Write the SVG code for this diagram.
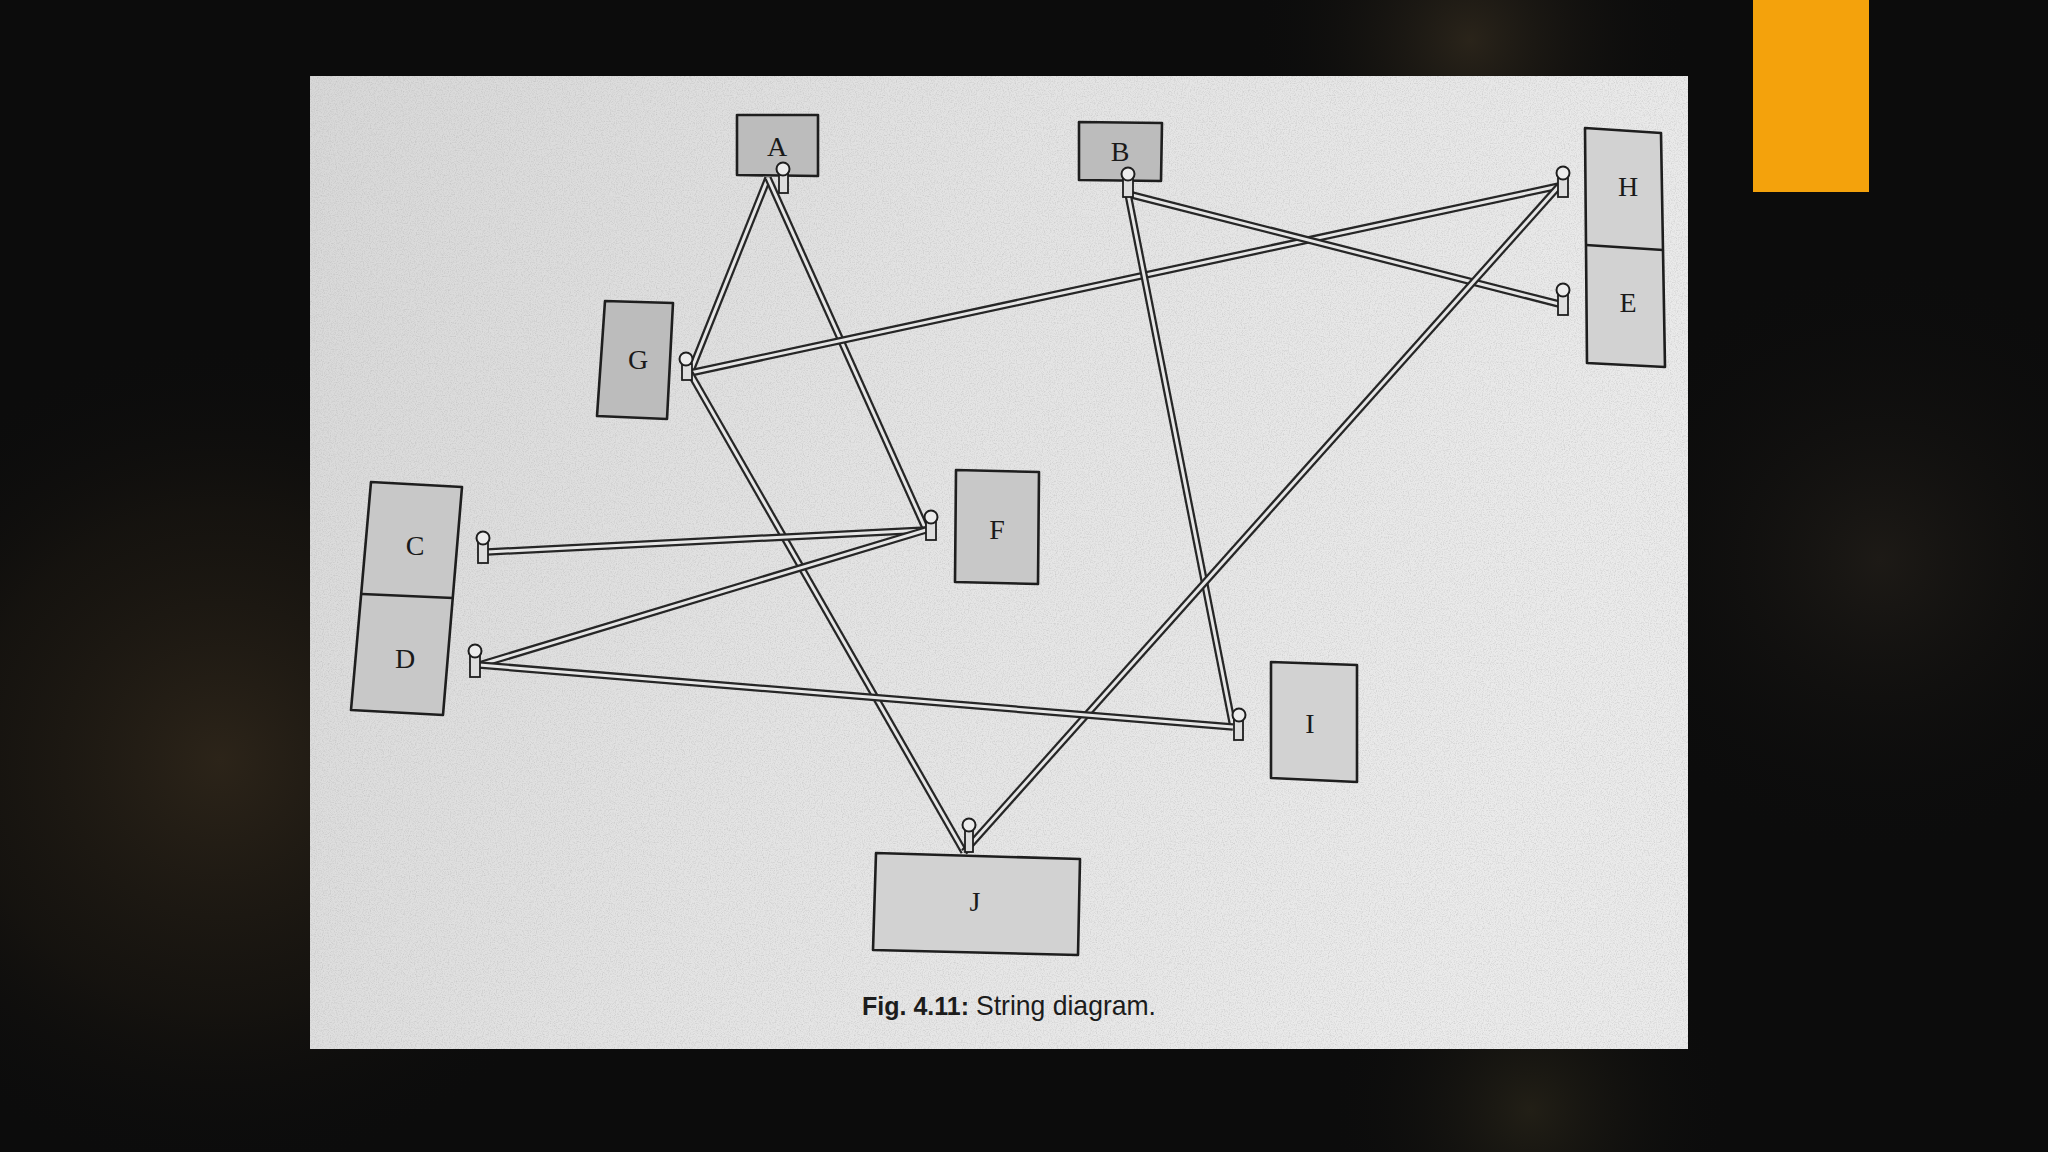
<svg xmlns="http://www.w3.org/2000/svg" width="2048" height="1152" viewBox="0 0 2048 1152">
  <defs>
    <radialGradient id="glowL" cx="220" cy="760" r="420" gradientUnits="userSpaceOnUse">
      <stop offset="0" stop-color="#2c2419"/>
      <stop offset="0.6" stop-color="#1b1711" stop-opacity="0.6"/>
      <stop offset="1" stop-color="#0c0c0c" stop-opacity="0"/>
    </radialGradient>
    <radialGradient id="glowT" cx="1470" cy="40" r="220" gradientUnits="userSpaceOnUse">
      <stop offset="0" stop-color="#2a241a"/>
      <stop offset="1" stop-color="#0c0c0c" stop-opacity="0"/>
    </radialGradient>
    <radialGradient id="glowR" cx="1880" cy="560" r="300" gradientUnits="userSpaceOnUse">
      <stop offset="0" stop-color="#1d1a16"/>
      <stop offset="1" stop-color="#0c0c0c" stop-opacity="0"/>
    </radialGradient>
    <radialGradient id="glowB" cx="1530" cy="1110" r="200" gradientUnits="userSpaceOnUse">
      <stop offset="0" stop-color="#221f16"/>
      <stop offset="1" stop-color="#0c0c0c" stop-opacity="0"/>
    </radialGradient>
    <linearGradient id="paperG" x1="0" y1="0" x2="1" y2="0.3">
      <stop offset="0" stop-color="#d8d8d8"/>
      <stop offset="0.5" stop-color="#e4e4e4"/>
      <stop offset="1" stop-color="#ebebeb"/>
    </linearGradient>
    <filter id="grain" x="0" y="0" width="100%" height="100%">
      <feTurbulence type="fractalNoise" baseFrequency="0.85" numOctaves="2" seed="4" result="n"/>
      <feColorMatrix in="n" type="matrix" values="0 0 0 0 0.35  0 0 0 0 0.35  0 0 0 0 0.35  0 0 0 -2.2 1.25" result="g"/>
      <feComposite in="g" in2="SourceGraphic" operator="in"/>
    </filter>
  </defs>
  <style>
    .box { stroke: #1e1e1e; stroke-width: 2.6; stroke-linejoin: round; }
    .dark { fill: #bcbcbc; }
    .mid { fill: #c8c8c8; }
    .light { fill: #d2d2d2; }
    .div { stroke: #1e1e1e; stroke-width: 2.4; fill: none; }
    .lbl { font-family: "Liberation Serif", "Times New Roman", serif; font-size: 28px; fill: #1a1a1a; text-anchor: middle; }
    .ro { stroke: #262626; stroke-width: 7.5; fill: none; stroke-linecap: butt; }
    .ri { stroke: #e6e6e6; stroke-width: 3; fill: none; stroke-linecap: butt; }
    .pinc { fill: #ececec; stroke: #1e1e1e; stroke-width: 2; }
    .pins { fill: #dedede; stroke: #1e1e1e; stroke-width: 1.8; }
    .cap { font-family: "Liberation Sans", Arial, sans-serif; fill: #1c1c1c; }
  </style>

  <!-- background -->
  <rect x="0" y="0" width="2048" height="1152" fill="#0c0c0c"/>
  <rect x="0" y="0" width="2048" height="1152" fill="url(#glowL)"/>
  <rect x="0" y="0" width="2048" height="1152" fill="url(#glowT)"/>
  <rect x="0" y="0" width="2048" height="1152" fill="url(#glowR)"/>
  <rect x="0" y="0" width="2048" height="1152" fill="url(#glowB)"/>

  <!-- orange accent -->
  <rect x="1753" y="0" width="116" height="192" fill="#f4a20c"/>

  <!-- paper -->
  <rect x="310" y="76" width="1378" height="973" fill="url(#paperG)"/>
  <rect x="310" y="76" width="1378" height="973" fill="#000" filter="url(#grain)" opacity="0.35"/>

  <!-- nodes -->
  <g id="node-A">
    <polygon class="box dark" points="737,115 818,115 818,176 737,175"/>
    <text class="lbl" x="777" y="156">A</text>
  </g>
  <g id="node-B">
    <polygon class="box dark" points="1079,122 1162,123 1161,181 1079,180"/>
    <text class="lbl" x="1120" y="161">B</text>
  </g>
  <g id="node-G">
    <polygon class="box dark" points="605,301 673,303 667,419 597,416"/>
    <text class="lbl" x="638" y="369">G</text>
  </g>
  <g id="node-F">
    <polygon class="box mid" points="956,470 1039,472 1038,584 955,582"/>
    <text class="lbl" x="997" y="539">F</text>
  </g>
  <g id="node-CD">
    <polygon class="box mid" points="371,482 462,487 443,715 351,710"/>
    <line class="div" x1="362" y1="594" x2="453" y2="598"/>
    <text class="lbl" x="415" y="555">C</text>
    <text class="lbl" x="405" y="668">D</text>
  </g>
  <g id="node-HE">
    <polygon class="box light" points="1585,128 1661,133 1665,367 1587,363"/>
    <line class="div" x1="1586" y1="245" x2="1663" y2="250"/>
    <text class="lbl" x="1628" y="196">H</text>
    <text class="lbl" x="1628" y="312">E</text>
  </g>
  <g id="node-I">
    <polygon class="box light" points="1271,662 1357,665 1357,782 1271,778"/>
    <text class="lbl" x="1310" y="733">I</text>
  </g>
  <g id="node-J">
    <polygon class="box light" points="876,853 1080,859 1078,955 873,950"/>
    <text class="lbl" x="975" y="911">J</text>
  </g>

  <!-- connectors (strings) -->
  <g id="connectors">
    <line class="ro" x1="768" y1="178" x2="690" y2="373"/><line class="ri" x1="768" y1="178" x2="690" y2="373"/>
    <line class="ro" x1="768" y1="178" x2="926" y2="530"/><line class="ri" x1="768" y1="178" x2="926" y2="530"/>
    <line class="ro" x1="690" y1="373" x2="1559" y2="186"/><line class="ri" x1="690" y1="373" x2="1559" y2="186"/>
    <line class="ro" x1="690" y1="373" x2="964" y2="852"/><line class="ri" x1="690" y1="373" x2="964" y2="852"/>
    <line class="ro" x1="1128" y1="194" x2="1559" y2="304"/><line class="ri" x1="1128" y1="194" x2="1559" y2="304"/>
    <line class="ro" x1="1128" y1="194" x2="1233" y2="727"/><line class="ri" x1="1128" y1="194" x2="1233" y2="727"/>
    <line class="ro" x1="1559" y1="186" x2="964" y2="852"/><line class="ri" x1="1559" y1="186" x2="964" y2="852"/>
    <line class="ro" x1="487" y1="552" x2="926" y2="530"/><line class="ri" x1="487" y1="552" x2="926" y2="530"/>
    <line class="ro" x1="926" y1="530" x2="479" y2="665"/><line class="ri" x1="926" y1="530" x2="479" y2="665"/>
    <line class="ro" x1="479" y1="665" x2="1233" y2="727"/><line class="ri" x1="479" y1="665" x2="1233" y2="727"/>
  </g>

  <!-- pins -->
  <g id="pins">
    <rect class="pins" x="779" y="173" width="9" height="20"/><circle class="pinc" cx="783" cy="169" r="6.5"/>
    <rect class="pins" x="1123" y="178" width="10" height="19"/><circle class="pinc" cx="1128" cy="174" r="6.5"/>
    <rect class="pins" x="682" y="364" width="10" height="16"/><circle class="pinc" cx="686" cy="359" r="6.5"/>
    <rect class="pins" x="1558" y="178" width="10" height="19"/><circle class="pinc" cx="1563" cy="173" r="6.5"/>
    <rect class="pins" x="1558" y="295" width="10" height="20"/><circle class="pinc" cx="1563" cy="290" r="6.5"/>
    <rect class="pins" x="478" y="543" width="10" height="20"/><circle class="pinc" cx="483" cy="538" r="6.5"/>
    <rect class="pins" x="470" y="656" width="10" height="21"/><circle class="pinc" cx="475" cy="651" r="6.5"/>
    <rect class="pins" x="926" y="522" width="10" height="18"/><circle class="pinc" cx="931" cy="517" r="6.5"/>
    <rect class="pins" x="1234" y="720" width="9" height="20"/><circle class="pinc" cx="1239" cy="715" r="6.5"/>
    <rect class="pins" x="965" y="830" width="8" height="22"/><circle class="pinc" cx="969" cy="825" r="6.5"/>
  </g>

  <!-- caption -->
  <g id="caption">
    <text class="cap" x="862" y="1015" font-size="25" font-weight="bold">Fig. 4.11:</text>
    <text class="cap" x="976" y="1015" font-size="28" textLength="180" lengthAdjust="spacingAndGlyphs">String diagram.</text>
  </g>
</svg>
